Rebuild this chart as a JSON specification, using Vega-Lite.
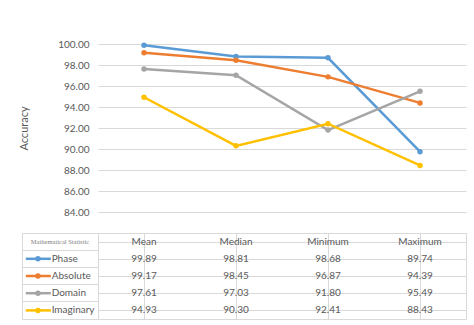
{
  "$schema": "https://vega.github.io/schema/vega-lite/v6.json",
  "background": "white",
  "padding": {"left": 18, "top": 39, "right": 5, "bottom": 5},
  "config": {"view": {"stroke": null}, "font": "Lato"},
  "datasets": {
    "acc": [
      {"series": "Phase", "stat": "Mean", "value": 99.89},
      {"series": "Phase", "stat": "Median", "value": 98.81},
      {"series": "Phase", "stat": "Minimum", "value": 98.68},
      {"series": "Phase", "stat": "Maximum", "value": 89.74},
      {"series": "Absolute", "stat": "Mean", "value": 99.17},
      {"series": "Absolute", "stat": "Median", "value": 98.45},
      {"series": "Absolute", "stat": "Minimum", "value": 96.87},
      {"series": "Absolute", "stat": "Maximum", "value": 94.39},
      {"series": "Domain", "stat": "Mean", "value": 97.61},
      {"series": "Domain", "stat": "Median", "value": 97.03},
      {"series": "Domain", "stat": "Minimum", "value": 91.80},
      {"series": "Domain", "stat": "Maximum", "value": 95.49},
      {"series": "Imaginary", "stat": "Mean", "value": 94.93},
      {"series": "Imaginary", "stat": "Median", "value": 90.30},
      {"series": "Imaginary", "stat": "Minimum", "value": 92.41},
      {"series": "Imaginary", "stat": "Maximum", "value": 88.43}
    ],
    "stats": [{"stat": "Mean"}, {"stat": "Median"}, {"stat": "Minimum"}, {"stat": "Maximum"}],
    "header": [{"label": "Mathematical Statistic"}],
    "empty": []
  },
  "data": {"name": "acc"},
  "resolve": {"scale": {"x": "independent", "y": "independent", "color": "independent"}},
  "bounds": "flush",
  "columns": 2,
  "spacing": {"row": 21, "column": 0},
  "concat": [
    {
      "width": 76,
      "height": 168,
      "data": {"name": "empty"},
      "mark": {"type": "point", "opacity": 0},
      "encoding": {}
    },
    {
      "width": 368,
      "height": 168,
      "mark": {"type": "line", "strokeWidth": 2.5, "point": {"filled": true, "size": 30}},
      "encoding": {
        "x": {"field": "stat", "type": "nominal", "sort": ["Mean", "Median", "Minimum", "Maximum"], "scale": {"type": "point", "padding": 0.5}, "axis": null},
        "y": {
          "field": "value", "type": "quantitative",
          "scale": {"domain": [84, 100], "zero": false, "nice": false},
          "axis": {
            "title": "Accuracy", "values": [84, 86, 88, 90, 92, 94, 96, 98, 100], "format": ".2f",
            "labelPadding": 9, "ticks": false, "domain": false, "gridColor": "#d9d9d9",
            "labelColor": "#595959", "labelFont": "Lato", "labelFontSize": 10,
            "titleFont": "Lato", "titleFontSize": 11, "titleFontWeight": "normal", "titleColor": "#595959",
            "minExtent": 39, "maxExtent": 39, "titlePadding": 30
          }
        },
        "color": {"field": "series", "type": "nominal", "scale": {"domain": ["Phase", "Absolute", "Domain", "Imaginary"], "range": ["#5B9BD5", "#ED7D31", "#A5A5A5", "#FFC000"]}, "legend": null}
      }
    },
    {
      "width": 76,
      "height": 86,
      "view": {"stroke": "#d9d9d9"},
      "layer": [
        {
          "transform": [{"filter": "datum.stat === 'Mean'"}],
          "mark": {"type": "rule", "strokeWidth": 2.5},
          "encoding": {
            "x": {"datum": 0.05, "type": "quantitative", "scale": {"domain": [0, 1]}, "axis": null},
            "x2": {"datum": 0.38},
            "y": {"field": "series", "type": "nominal", "scale": {"domain": ["Mathematical Statistic", "Phase", "Absolute", "Domain", "Imaginary"], "paddingInner": 0, "paddingOuter": 0}, "axis": {"grid": true, "bandPosition": 0, "labels": false, "ticks": false, "domain": false, "title": null, "gridColor": "#d9d9d9"}},
            "color": {"field": "series", "type": "nominal", "scale": {"domain": ["Phase", "Absolute", "Domain", "Imaginary"], "range": ["#5B9BD5", "#ED7D31", "#A5A5A5", "#FFC000"]}, "legend": null}
          }
        },
        {
          "transform": [{"filter": "datum.stat === 'Mean'"}],
          "mark": {"type": "point", "filled": true, "size": 30, "opacity": 1},
          "encoding": {
            "x": {"datum": 0.21, "type": "quantitative"},
            "y": {"field": "series", "type": "nominal"},
            "color": {"field": "series", "type": "nominal", "legend": null}
          }
        },
        {
          "transform": [{"filter": "datum.stat === 'Mean'"}],
          "mark": {"type": "text", "align": "left", "fontSize": 10, "color": "#595959", "font": "Lato"},
          "encoding": {
            "x": {"datum": 0.39, "type": "quantitative"},
            "y": {"field": "series", "type": "nominal"},
            "text": {"field": "series"}
          }
        },
        {
          "data": {"name": "header"},
          "mark": {"type": "text", "font": "Liberation Serif", "fontSize": 6.5, "color": "#7f7f7f"},
          "encoding": {
            "x": {"datum": 0.5, "type": "quantitative"},
            "y": {"field": "label", "type": "nominal"},
            "text": {"field": "label"}
          }
        }
      ]
    },
    {
      "width": 368,
      "height": 86,
      "view": {"stroke": "#d9d9d9"},
      "layer": [
        {
          "mark": {"type": "text", "fontSize": 10, "color": "#595959", "font": "Lato"},
          "encoding": {
            "x": {"field": "stat", "type": "nominal", "sort": ["Mean", "Median", "Minimum", "Maximum"], "scale": {"domain": ["Mean", "Median", "Minimum", "Maximum"], "paddingInner": 0, "paddingOuter": 0}, "axis": {"grid": true, "bandPosition": 0, "labels": false, "ticks": false, "domain": false, "title": null, "gridColor": "#d9d9d9"}},
            "y": {"field": "series", "type": "nominal", "scale": {"domain": ["Mathematical Statistic", "Phase", "Absolute", "Domain", "Imaginary"], "paddingInner": 0, "paddingOuter": 0}, "axis": {"grid": true, "bandPosition": 0, "labels": false, "ticks": false, "domain": false, "title": null, "gridColor": "#d9d9d9"}},
            "text": {"field": "value", "type": "quantitative", "format": ".2f"}
          }
        },
        {
          "data": {"name": "stats"},
          "mark": {"type": "text", "fontSize": 10, "color": "#595959", "font": "Lato"},
          "encoding": {
            "x": {"field": "stat", "type": "nominal"},
            "y": {"datum": "Mathematical Statistic", "type": "nominal"},
            "text": {"field": "stat"}
          }
        }
      ]
    }
  ]
}
